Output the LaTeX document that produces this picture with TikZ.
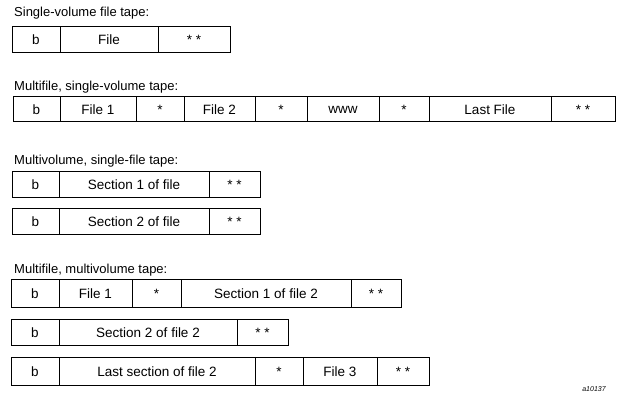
\documentclass[tikz,border=0pt]{standalone}
\usepackage{fontspec}
\setmainfont{Liberation Sans}
\begin{document}
\begin{tikzpicture}[x=1pt,y=-1pt]
	\tikzset{cell/.style={draw=black, line width=1pt, inner sep=0pt, font=\fontsize{13.5}{15}\selectfont},
		ttl/.style={anchor=west, inner sep=0pt, font=\fontsize{13}{15}\selectfont}};
	\useasboundingbox (0,0) rectangle (627,403);

	% titles
	\node[ttl] (t1) at (14,13) {Single-volume file tape:};
	\node[ttl] (t2) at (14,87) {Multifile, single-volume tape:};
	\node[ttl] (t3) at (14,161) {Multivolume, single-file tape:};
	\node[ttl] (t4) at (14,270) {Multifile, multivolume tape:};

	% tapes: row/top/bottom, then cells left/right/label
	\foreach \x/\y/\t [count=\i] in {12/60/b, 60/158/File, 158/230/{* *}}
		\node[cell, minimum width={(\y-\x)*1pt}, minimum height=26pt] (a\i) at ({(\x+\y)/2},40) {\t};
	\foreach \x/\y/\t [count=\i] in {13/60/b, 60/136/File 1, 136/184/*, 184/255/File 2, 255/307/*,
		307/379/www, 379/429/*, 429/551/Last File, 551/615/{* *}}
		\node[cell, minimum width={(\y-\x)*1pt}, minimum height=25pt] (b\i) at ({(\x+\y)/2},109.5) {\t};
	\foreach \x/\y/\t [count=\i] in {12/59/b, 59/209/Section 1 of file, 209/260/{* *}}
		\node[cell, minimum width={(\y-\x)*1pt}, minimum height=26pt] (c\i) at ({(\x+\y)/2},185) {\t};
	\foreach \x/\y/\t [count=\i] in {12/59/b, 59/209/Section 2 of file, 209/260/{* *}}
		\node[cell, minimum width={(\y-\x)*1pt}, minimum height=26pt] (d\i) at ({(\x+\y)/2},222) {\t};
	\foreach \x/\y/\t [count=\i] in {11/59/b, 59/132/File 1, 132/181/*, 181/351/Section 1 of file 2, 351/401/{* *}}
		\node[cell, minimum width={(\y-\x)*1pt}, minimum height=28pt] (e\i) at ({(\x+\y)/2},294) {\t};
	\foreach \x/\y/\t [count=\i] in {11/59/b, 59/237/Section 2 of file 2, 237/288/{* *}}
		\node[cell, minimum width={(\y-\x)*1pt}, minimum height=26pt] (f\i) at ({(\x+\y)/2},333) {\t};
	\foreach \x/\y/\t [count=\i] in {11/59/b, 59/255/Last section of file 2, 255/303/*, 303/377/File 3, 377/429/{* *}}
		\node[cell, minimum width={(\y-\x)*1pt}, minimum height=28pt] (g\i) at ({(\x+\y)/2},372) {\t};

	\node[inner sep=0pt, font=\fontsize{7}{8}\selectfont\itshape] (id) at (594,389) {a10137};
\end{tikzpicture}
\end{document}
